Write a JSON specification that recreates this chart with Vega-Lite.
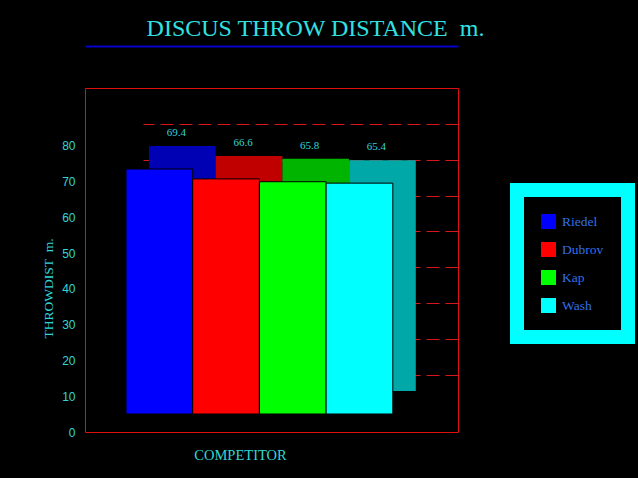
{
  "$schema": "https://vega.github.io/schema/vega-lite/v6.json",
  "background": "#000000",
  "autosize": {"type": "none"},
  "width": 373,
  "height": 344,
  "padding": {"left": 85, "top": 88, "right": 180, "bottom": 46},
  "title": {
    "text": "DISCUS THROW DISTANCE\u00a0\u00a0m.",
    "font": "Liberation Serif",
    "fontSize": 24,
    "fontWeight": "normal",
    "color": "#33e0e0",
    "anchor": "middle",
    "dx": 44,
    "offset": 5
  },
  "data": {
    "values": [
      {"competitor": "Riedel", "dist": 69.4},
      {"competitor": "Dubrov", "dist": 66.6},
      {"competitor": "Kap", "dist": 65.8},
      {"competitor": "Wash", "dist": 65.4}
    ]
  },
  "encoding": {
    "x": {
      "field": "competitor",
      "type": "nominal",
      "sort": null,
      "scale": {"paddingInner": 0, "paddingOuter": 0.796, "align": 0.386},
      "axis": null
    }
  },
  "layer": [
    {
      "mark": {"type": "point", "opacity": 0},
      "encoding": {
        "x": {
          "field": "competitor",
          "type": "nominal",
          "sort": null,
          "axis": {
            "orient": "top",
            "offset": 42,
            "labels": false,
            "ticks": false,
            "grid": false,
            "title": null,
            "domainColor": "#0000c8",
            "domainWidth": 2
          }
        },
        "y": {
          "field": "dist",
          "type": "quantitative",
          "scale": {"domain": [0, 96.22], "nice": false, "zero": false},
          "axis": {
            "values": [0, 10, 20, 30, 40, 50, 60, 70, 80],
            "ticks": false,
            "domain": false,
            "grid": false,
            "labelColor": "#33d6d6",
            "labelFont": "Liberation Sans",
            "labelFontSize": 12,
            "labelPadding": 10,
            "title": "THROWDIST\u00a0\u00a0m.",
            "titleFont": "Liberation Serif",
            "titleFontSize": 13.5,
            "titleFontWeight": "normal",
            "titleColor": "#33d6d6",
            "titleBaseline": "middle",
            "titleX": -37,
            "titleY": 200
          }
        }
      }
    },
    {
      "mark": {"type": "point", "opacity": 0},
      "encoding": {
        "y": {
          "field": "dist",
          "type": "quantitative",
          "scale": {"domain": [-15.89, 80], "nice": false, "zero": false},
          "axis": {
            "orient": "right",
            "values": [0, 10, 20, 30, 40, 50, 60, 70],
            "labels": false,
            "domain": false,
            "grid": false,
            "title": null,
            "tickSize": -315,
            "tickColor": "#d81818",
            "tickWidth": 1,
            "tickDash": [13, 6]
          }
        }
      }
    },
    {
      "mark": {"type": "bar", "xOffset": 23, "yOffset": -23},
      "encoding": {
        "x": {
          "field": "competitor",
          "type": "nominal",
          "sort": null,
          "axis": {
            "orient": "bottom",
            "labels": false,
            "ticks": false,
            "domain": false,
            "grid": false,
            "title": "COMPETITOR",
            "titleFont": "Liberation Serif",
            "titleFontSize": 14.5,
            "titleFontWeight": "normal",
            "titleColor": "#33d6d6",
            "titleBaseline": "middle",
            "titleX": 155,
            "titleY": 23
          }
        },
        "y": {
          "field": "dist",
          "type": "quantitative",
          "scale": {"domain": [-5.1, 92.35], "nice": false},
          "axis": null
        },
        "color": {
          "field": "competitor",
          "type": "nominal",
          "sort": null,
          "scale": {
            "domain": ["Riedel", "Dubrov", "Kap", "Wash"],
            "range": ["#0000b4", "#c00000", "#00b400", "#00a8a8"]
          },
          "legend": null
        }
      }
    },
    {
      "mark": {"type": "bar", "stroke": "#000000", "strokeWidth": 1},
      "encoding": {
        "y": {
          "field": "dist",
          "type": "quantitative",
          "scale": {"domain": [-5.1, 92.35], "nice": false},
          "axis": null
        },
        "color": {
          "field": "competitor",
          "type": "nominal",
          "sort": null,
          "scale": {
            "domain": ["Riedel", "Dubrov", "Kap", "Wash"],
            "range": ["#0000ff", "#ff0000", "#00ff00", "#00ffff"]
          },
          "legend": {
            "orient": "none",
            "legendX": 432,
            "legendY": 102,
            "title": null,
            "fillColor": "#000000",
            "strokeColor": "#00ffff",
            "padding": 24,
            "rowPadding": 13,
            "symbolType": "square",
            "symbolSize": 225,
            "symbolStrokeWidth": 0,
            "labelFont": "Liberation Serif",
            "labelFontSize": 13.5,
            "labelColor": "#3070e8",
            "labelOffset": 6
          }
        }
      }
    },
    {
      "mark": {
        "type": "text",
        "dx": 17,
        "dy": -36,
        "baseline": "middle",
        "font": "Liberation Serif",
        "fontSize": 11,
        "color": "#33d6d6"
      },
      "encoding": {
        "y": {
          "field": "dist",
          "type": "quantitative",
          "scale": {"domain": [-5.1, 92.35], "nice": false},
          "axis": null
        },
        "text": {"field": "dist", "type": "quantitative", "format": ".1f"}
      }
    }
  ],
  "resolve": {
    "scale": {"y": "independent", "color": "independent"},
    "axis": {"x": "independent", "y": "independent"},
    "legend": {"color": "independent"}
  },
  "config": {
    "view": {"stroke": "#e01010", "strokeWidth": 1},
    "legend": {"strokeWidth": 14}
  }
}
